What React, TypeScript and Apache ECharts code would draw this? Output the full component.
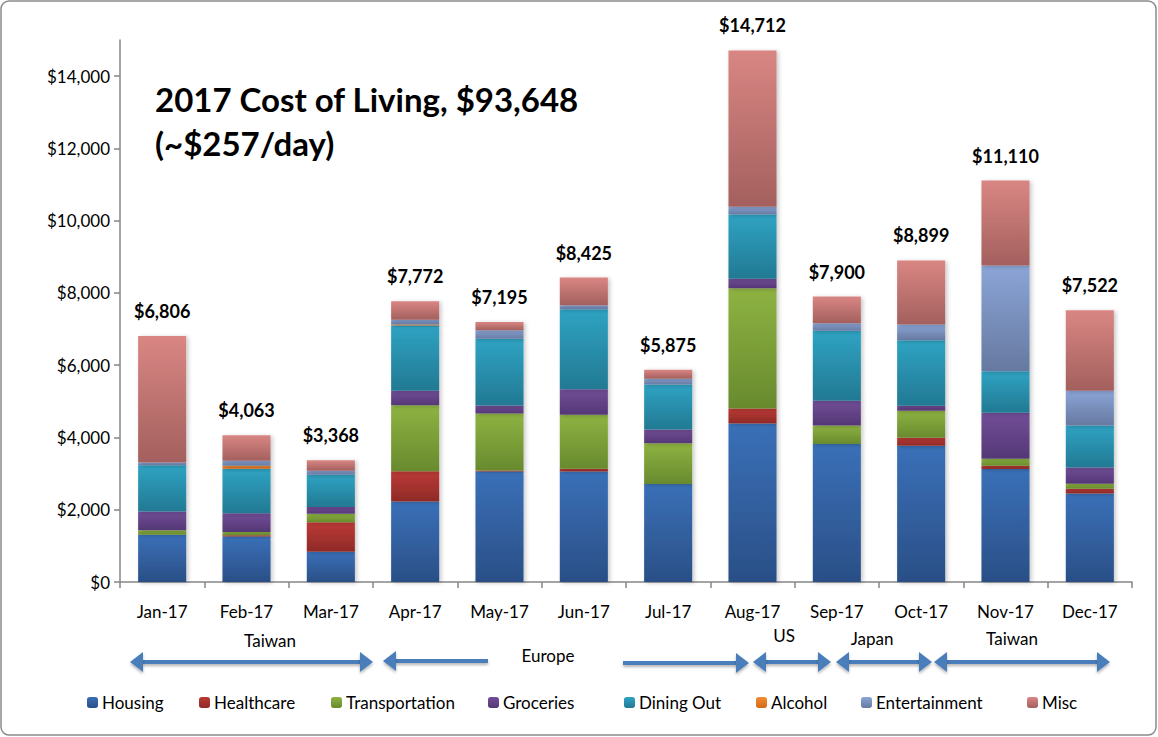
import React, { useEffect, useRef } from "react";
import * as echarts from "echarts";

// Monthly spending by category (USD)
const CATEGORIES = ["Jan-17", "Feb-17", "Mar-17", "Apr-17", "May-17", "Jun-17", "Jul-17", "Aug-17", "Sep-17", "Oct-17", "Nov-17", "Dec-17"];
const HOUSING = [1306, 1257, 836, 2229, 3058, 3058, 2712, 4386, 3820, 3770, 3124, 2449];
const HEALTHCARE = [0, 37, 815, 837, 28, 75, 0, 419, 0, 222, 92, 129];
const TRANSPORTATION = [129, 92, 236, 1824, 1580, 1497, 1131, 3326, 513, 749, 194, 139];
const GROCERIES = [518, 518, 186, 404, 222, 702, 377, 263, 682, 138, 1275, 452];
const DINING_OUT = [1275, 1229, 894, 1808, 1841, 2219, 1244, 1778, 1935, 1811, 1145, 1164];
const ALCOHOL = [0, 83, 0, 27, 0, 0, 0, 0, 0, 0, 0, 0];
const ENTERTAINMENT = [76, 139, 115, 132, 238, 111, 158, 210, 208, 435, 2931, 962];
const MISC = [3502, 708, 286, 511, 228, 763, 253, 4330, 742, 1774, 2349, 2227];

const Y_TICKS = [0, 2000, 4000, 6000, 8000, 10000, 12000, 14000];
const TITLE_LINES = ["2017 Cost of Living, $93,648", "(~$257/day)"];

const SERIES = [
  { name: "Housing", data: HOUSING, top: "#3A70B8", bottom: "#2A4F86" },
  { name: "Healthcare", data: HEALTHCARE, top: "#BC3A36", bottom: "#8E2A27" },
  { name: "Transportation", data: TRANSPORTATION, top: "#8EB342", bottom: "#688A2E" },
  { name: "Groceries", data: GROCERIES, top: "#724E98", bottom: "#543775" },
  { name: "Dining Out", data: DINING_OUT, top: "#2FA3C3", bottom: "#227993" },
  { name: "Alcohol", data: ALCOHOL, top: "#F28B36", bottom: "#D46A16" },
  { name: "Entertainment", data: ENTERTAINMENT, top: "#8BA5D7", bottom: "#6679A0" },
  { name: "Misc", data: MISC, top: "#D98683", bottom: "#A3605E" },
];

// Trip regions shown under the month axis
const REGIONS = [
  { name: "Taiwan", x: 270, y: 640 },
  { name: "Europe", x: 548, y: 655 },
  { name: "US", x: 784, y: 635 },
  { name: "Japan", x: 872, y: 638 },
  { name: "Taiwan", x: 1012, y: 638 },
];

const ARROWS = [
  { x1: 130, x2: 373, y: 662, left: true, right: true },
  { x1: 383, x2: 488, y: 661, left: true, right: false },
  { x1: 623, x2: 749, y: 663, left: false, right: true },
  { x1: 753, x2: 831, y: 662, left: true, right: true },
  { x1: 836, x2: 932, y: 662, left: true, right: true },
  { x1: 934, x2: 1110, y: 662, left: true, right: true },
];

const LEGEND_LEFT = [82, 194, 326, 483, 619, 751, 856, 1022];

const FONT = 'Lato, "DejaVu Sans", sans-serif';
const AXIS_GREY = "#868686";
const ARROW_BLUE = "#4A7EBB";

const money = (v: number) => "$" + Math.round(v).toLocaleString("en-US");

const monthTotal = (i: number) => SERIES.reduce((s, ser) => s + ser.data[i], 0);

function arrowShapes(a: { x1: number; x2: number; y: number; left: boolean; right: boolean }) {
  const head = 13;
  const half = 10;
  const shadow = { shadowBlur: 3, shadowColor: "rgba(0,0,0,0.3)", shadowOffsetY: 2 };
  const items: any[] = [];
  const lx = a.left ? a.x1 + head - 1 : a.x1;
  const rx = a.right ? a.x2 - head + 1 : a.x2;
  items.push({
    type: "rect",
    silent: true,
    shape: { x: lx, y: a.y - 2, width: rx - lx, height: 4 },
    style: { fill: ARROW_BLUE, ...shadow },
  });
  if (a.left) {
    items.push({
      type: "polygon",
      silent: true,
      shape: { points: [[a.x1, a.y], [a.x1 + head, a.y - half], [a.x1 + head, a.y + half]] },
      style: { fill: ARROW_BLUE, ...shadow },
    });
  }
  if (a.right) {
    items.push({
      type: "polygon",
      silent: true,
      shape: { points: [[a.x2, a.y], [a.x2 - head, a.y - half], [a.x2 - head, a.y + half]] },
      style: { fill: ARROW_BLUE, ...shadow },
    });
  }
  return items;
}

export default function App() {
  const ref = useRef<HTMLDivElement>(null);

  useEffect(() => {
    if (!ref.current) return;
    const chart = echarts.init(ref.current, undefined, { renderer: "svg" });

    const series: any[] = SERIES.map((s, idx) => ({
      name: s.name,
      type: "bar",
      stack: "total",
      barWidth: "57%",
      data: s.data,
      itemStyle: {
        color: new echarts.graphic.LinearGradient(0, 0, 0, 1, [
          { offset: 0, color: s.top },
          { offset: 1, color: s.bottom },
        ]),
        shadowBlur: 4,
        shadowOffsetX: 2,
        shadowOffsetY: 1,
        shadowColor: "rgba(0,0,0,0.22)",
      },
      label:
        idx === SERIES.length - 1
          ? {
              show: true,
              position: "top",
              distance: 16,
              formatter: (p: any) => money(monthTotal(p.dataIndex)),
              fontFamily: FONT,
              fontWeight: "bold",
              fontSize: 18,
              color: "#000",
            }
          : { show: false },
    }));

    const graphic: any[] = [
      {
        type: "rect",
        silent: true,
        shape: { x: 1, y: 1, width: 1155, height: 734, r: 8 },
        style: { fill: "none", stroke: "#8a8a8a", lineWidth: 1.5 },
      },
      ...REGIONS.map((r) => ({
        type: "text",
        silent: true,
        x: r.x,
        y: r.y,
        style: {
          text: r.name,
          fontFamily: FONT,
          fontSize: 17,
          fill: "#000",
          align: "center",
          verticalAlign: "middle",
        },
      })),
      ...ARROWS.flatMap(arrowShapes),
    ];

    chart.setOption({
      animation: false,
      backgroundColor: "#fff",
      title: {
        text: TITLE_LINES.join("\n"),
        left: 150,
        top: 72,
        textStyle: {
          fontFamily: FONT,
          fontWeight: "bold",
          fontSize: 33,
          lineHeight: 44,
          color: "#000",
        },
      },
      legend: SERIES.map((s, i) => ({
        data: [s.name],
        left: LEGEND_LEFT[i],
        top: 689,
        itemWidth: 11,
        itemHeight: 11,
        itemGap: 0,
        selectedMode: false,
        textStyle: { fontFamily: FONT, fontSize: 17, color: "#000", padding: [0, 0, 0, -1] },
      })),
      grid: { left: 120, right: 26, top: 40, bottom: 155 },
      xAxis: {
        type: "category",
        data: CATEGORIES,
        axisLine: { show: true, lineStyle: { color: AXIS_GREY, width: 1.5 } },
        axisTick: { show: true, alignWithLabel: false, length: 6, lineStyle: { color: AXIS_GREY, width: 1.5 } },
        axisLabel: { fontFamily: FONT, fontSize: 17, color: "#000", margin: 21 },
      },
      yAxis: {
        type: "value",
        min: 0,
        max: 15000,
        interval: 2000,
        splitLine: { show: false },
        axisLine: { show: true, lineStyle: { color: AXIS_GREY, width: 1.5 } },
        axisTick: { show: true, length: 6, customValues: Y_TICKS, lineStyle: { color: AXIS_GREY, width: 1.5 } },
        axisLabel: {
          fontFamily: FONT,
          fontSize: 17,
          color: "#000",
          margin: 10,
          customValues: Y_TICKS,
          formatter: (v: number) => money(v),
        },
      },
      graphic,
      series,
    });

    return () => chart.dispose();
  }, []);

  return (
    <div
      ref={ref}
      style={{ position: "fixed", left: 0, top: 0, width: 1158, height: 737, background: "#fff" }}
    />
  );
}
